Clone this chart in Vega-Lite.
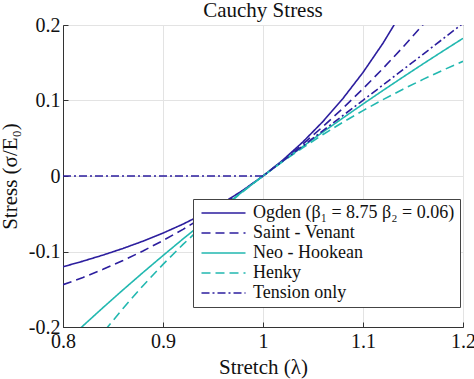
{
  "$schema": "https://vega.github.io/schema/vega-lite/v6.json",
  "autosize": {"type": "none"},
  "padding": {"left": 63, "top": 25, "right": 11, "bottom": 52},
  "width": 400,
  "height": 302,
  "background": "white",
  "title": {"text": "Cauchy Stress", "font": "Liberation Serif", "fontSize": 21, "fontWeight": "normal", "color": "#111", "anchor": "middle", "offset": -6},
  "config": {
    "view": {"stroke": "#333", "strokeWidth": 1},
    "axis": {
      "labelFont": "Liberation Serif", "labelFontSize": 20, "labelColor": "#111",
      "titleFont": "Liberation Serif", "titleFontSize": 21, "titleColor": "#111", "titleFontWeight": "normal",
      "domainColor": "#333", "tickColor": "#333", "gridColor": "#e3e3e3", "gridWidth": 1
    }
  },
  "data": {"values": [
    {"model": "Ogden (β₁ = 8.75 β₂ = 0.06)", "x": 0.80, "y": -0.12025},
    {"model": "Ogden (β₁ = 8.75 β₂ = 0.06)", "x": 0.82, "y": -0.11279},
    {"model": "Ogden (β₁ = 8.75 β₂ = 0.06)", "x": 0.84, "y": -0.10473},
    {"model": "Ogden (β₁ = 8.75 β₂ = 0.06)", "x": 0.86, "y": -0.09595},
    {"model": "Ogden (β₁ = 8.75 β₂ = 0.06)", "x": 0.88, "y": -0.08630},
    {"model": "Ogden (β₁ = 8.75 β₂ = 0.06)", "x": 0.90, "y": -0.07563},
    {"model": "Ogden (β₁ = 8.75 β₂ = 0.06)", "x": 0.92, "y": -0.06375},
    {"model": "Ogden (β₁ = 8.75 β₂ = 0.06)", "x": 0.94, "y": -0.05047},
    {"model": "Ogden (β₁ = 8.75 β₂ = 0.06)", "x": 0.96, "y": -0.03559},
    {"model": "Ogden (β₁ = 8.75 β₂ = 0.06)", "x": 0.98, "y": -0.01885},
    {"model": "Ogden (β₁ = 8.75 β₂ = 0.06)", "x": 1.00, "y": 0},
    {"model": "Ogden (β₁ = 8.75 β₂ = 0.06)", "x": 1.02, "y": 0.02125},
    {"model": "Ogden (β₁ = 8.75 β₂ = 0.06)", "x": 1.04, "y": 0.04523},
    {"model": "Ogden (β₁ = 8.75 β₂ = 0.06)", "x": 1.06, "y": 0.07227},
    {"model": "Ogden (β₁ = 8.75 β₂ = 0.06)", "x": 1.08, "y": 0.10278},
    {"model": "Ogden (β₁ = 8.75 β₂ = 0.06)", "x": 1.10, "y": 0.13717},
    {"model": "Ogden (β₁ = 8.75 β₂ = 0.06)", "x": 1.12, "y": 0.17590},
    {"model": "Ogden (β₁ = 8.75 β₂ = 0.06)", "x": 1.14, "y": 0.21949},
    {"model": "Saint - Venant", "x": 0.80, "y": -0.14400},
    {"model": "Saint - Venant", "x": 0.82, "y": -0.13432},
    {"model": "Saint - Venant", "x": 0.84, "y": -0.12365},
    {"model": "Saint - Venant", "x": 0.86, "y": -0.11197},
    {"model": "Saint - Venant", "x": 0.88, "y": -0.09926},
    {"model": "Saint - Venant", "x": 0.90, "y": -0.08550},
    {"model": "Saint - Venant", "x": 0.92, "y": -0.07066},
    {"model": "Saint - Venant", "x": 0.94, "y": -0.05471},
    {"model": "Saint - Venant", "x": 0.96, "y": -0.03763},
    {"model": "Saint - Venant", "x": 0.98, "y": -0.01940},
    {"model": "Saint - Venant", "x": 1.00, "y": 0},
    {"model": "Saint - Venant", "x": 1.02, "y": 0.02060},
    {"model": "Saint - Venant", "x": 1.04, "y": 0.04243},
    {"model": "Saint - Venant", "x": 1.06, "y": 0.06551},
    {"model": "Saint - Venant", "x": 1.08, "y": 0.08986},
    {"model": "Saint - Venant", "x": 1.10, "y": 0.11550},
    {"model": "Saint - Venant", "x": 1.12, "y": 0.14246},
    {"model": "Saint - Venant", "x": 1.14, "y": 0.17077},
    {"model": "Saint - Venant", "x": 1.16, "y": 0.20045},
    {"model": "Saint - Venant", "x": 1.18, "y": 0.23152},
    {"model": "Neo - Hookean", "x": 0.80, "y": -0.22314},
    {"model": "Neo - Hookean", "x": 0.82, "y": -0.19845},
    {"model": "Neo - Hookean", "x": 0.84, "y": -0.17435},
    {"model": "Neo - Hookean", "x": 0.86, "y": -0.15082},
    {"model": "Neo - Hookean", "x": 0.88, "y": -0.12783},
    {"model": "Neo - Hookean", "x": 0.90, "y": -0.10536},
    {"model": "Neo - Hookean", "x": 0.92, "y": -0.08338},
    {"model": "Neo - Hookean", "x": 0.94, "y": -0.06188},
    {"model": "Neo - Hookean", "x": 0.96, "y": -0.04082},
    {"model": "Neo - Hookean", "x": 0.98, "y": -0.02020},
    {"model": "Neo - Hookean", "x": 1.00, "y": 0},
    {"model": "Neo - Hookean", "x": 1.02, "y": 0.01980},
    {"model": "Neo - Hookean", "x": 1.04, "y": 0.03922},
    {"model": "Neo - Hookean", "x": 1.06, "y": 0.05827},
    {"model": "Neo - Hookean", "x": 1.08, "y": 0.07696},
    {"model": "Neo - Hookean", "x": 1.10, "y": 0.09531},
    {"model": "Neo - Hookean", "x": 1.12, "y": 0.11333},
    {"model": "Neo - Hookean", "x": 1.14, "y": 0.13103},
    {"model": "Neo - Hookean", "x": 1.16, "y": 0.14842},
    {"model": "Neo - Hookean", "x": 1.18, "y": 0.16551},
    {"model": "Neo - Hookean", "x": 1.20, "y": 0.18232},
    {"model": "Henky", "x": 0.80, "y": -0.27893},
    {"model": "Henky", "x": 0.82, "y": -0.24201},
    {"model": "Henky", "x": 0.84, "y": -0.20756},
    {"model": "Henky", "x": 0.86, "y": -0.17537},
    {"model": "Henky", "x": 0.88, "y": -0.14526},
    {"model": "Henky", "x": 0.90, "y": -0.11707},
    {"model": "Henky", "x": 0.92, "y": -0.09063},
    {"model": "Henky", "x": 0.94, "y": -0.06583},
    {"model": "Henky", "x": 0.96, "y": -0.04252},
    {"model": "Henky", "x": 0.98, "y": -0.02061},
    {"model": "Henky", "x": 1.00, "y": 0},
    {"model": "Henky", "x": 1.02, "y": 0.01941},
    {"model": "Henky", "x": 1.04, "y": 0.03771},
    {"model": "Henky", "x": 1.06, "y": 0.05497},
    {"model": "Henky", "x": 1.08, "y": 0.07126},
    {"model": "Henky", "x": 1.10, "y": 0.08665},
    {"model": "Henky", "x": 1.12, "y": 0.10119},
    {"model": "Henky", "x": 1.14, "y": 0.11494},
    {"model": "Henky", "x": 1.16, "y": 0.12795},
    {"model": "Henky", "x": 1.18, "y": 0.14026},
    {"model": "Henky", "x": 1.20, "y": 0.15194},
    {"model": "Tension only", "x": 0.80, "y": 0},
    {"model": "Tension only", "x": 0.90, "y": 0},
    {"model": "Tension only", "x": 1.00, "y": 0},
    {"model": "Tension only", "x": 1.02, "y": 0.02000},
    {"model": "Tension only", "x": 1.04, "y": 0.04002},
    {"model": "Tension only", "x": 1.06, "y": 0.06007},
    {"model": "Tension only", "x": 1.08, "y": 0.08016},
    {"model": "Tension only", "x": 1.10, "y": 0.10030},
    {"model": "Tension only", "x": 1.12, "y": 0.12051},
    {"model": "Tension only", "x": 1.14, "y": 0.14080},
    {"model": "Tension only", "x": 1.16, "y": 0.16118},
    {"model": "Tension only", "x": 1.18, "y": 0.18165},
    {"model": "Tension only", "x": 1.20, "y": 0.20222}
  ]},
  "mark": {"type": "line", "clip": true, "strokeWidth": 1.6},
  "encoding": {
    "x": {"field": "x", "type": "quantitative", "title": "Stretch (λ)",
      "scale": {"domain": [0.8, 1.2], "nice": false, "zero": false},
      "axis": {"values": [0.8, 0.9, 1.0, 1.1, 1.2], "labelExpr": "datum.value == 1 ? '1' : format(datum.value, '.1f')", "grid": true, "tickSize": -5, "labelPadding": 9, "titlePadding": 5, "labelFlush": false, "labelOverlap": false}},
    "y": {"field": "y", "type": "quantitative", "title": "Stress (σ/E₀)",
      "scale": {"domain": [-0.2, 0.2], "nice": false, "zero": false},
      "axis": {"values": [-0.2, -0.1, 0, 0.1, 0.2], "labelExpr": "datum.value == 0 ? '0' : replace(format(datum.value, '.1f'), '−', '-')", "grid": true, "tickSize": -5, "labelPadding": 8, "titlePadding": 8, "labelFlush": false, "labelOverlap": false}},
    "color": {"field": "model", "type": "nominal",
      "scale": {"domain": ["Ogden (β₁ = 8.75 β₂ = 0.06)", "Saint - Venant", "Neo - Hookean", "Henky", "Tension only"],
                "range": ["#2c1e9e", "#2c1e9e", "#22b8b0", "#22b8b0", "#2c1e9e"]},
      "legend": {"title": null, "orient": "none", "legendX": 130, "legendY": 174,
        "fillColor": "white", "strokeColor": "#444", "padding": 5,
        "labelFont": "Liberation Serif", "labelFontSize": 18, "labelColor": "#111", "labelLimit": 400,
        "symbolType": "M-1,0H7", "symbolSize": 121, "symbolStrokeWidth": 1.6, "rowPadding": 2, "labelOffset": 37}},
    "strokeDash": {"field": "model", "type": "nominal",
      "scale": {"domain": ["Ogden (β₁ = 8.75 β₂ = 0.06)", "Saint - Venant", "Neo - Hookean", "Henky", "Tension only"],
                "range": [[1, 0], [9, 5], [1, 0], [9, 5], [8, 3, 2, 3]]},
      "legend": null}
  }
}
